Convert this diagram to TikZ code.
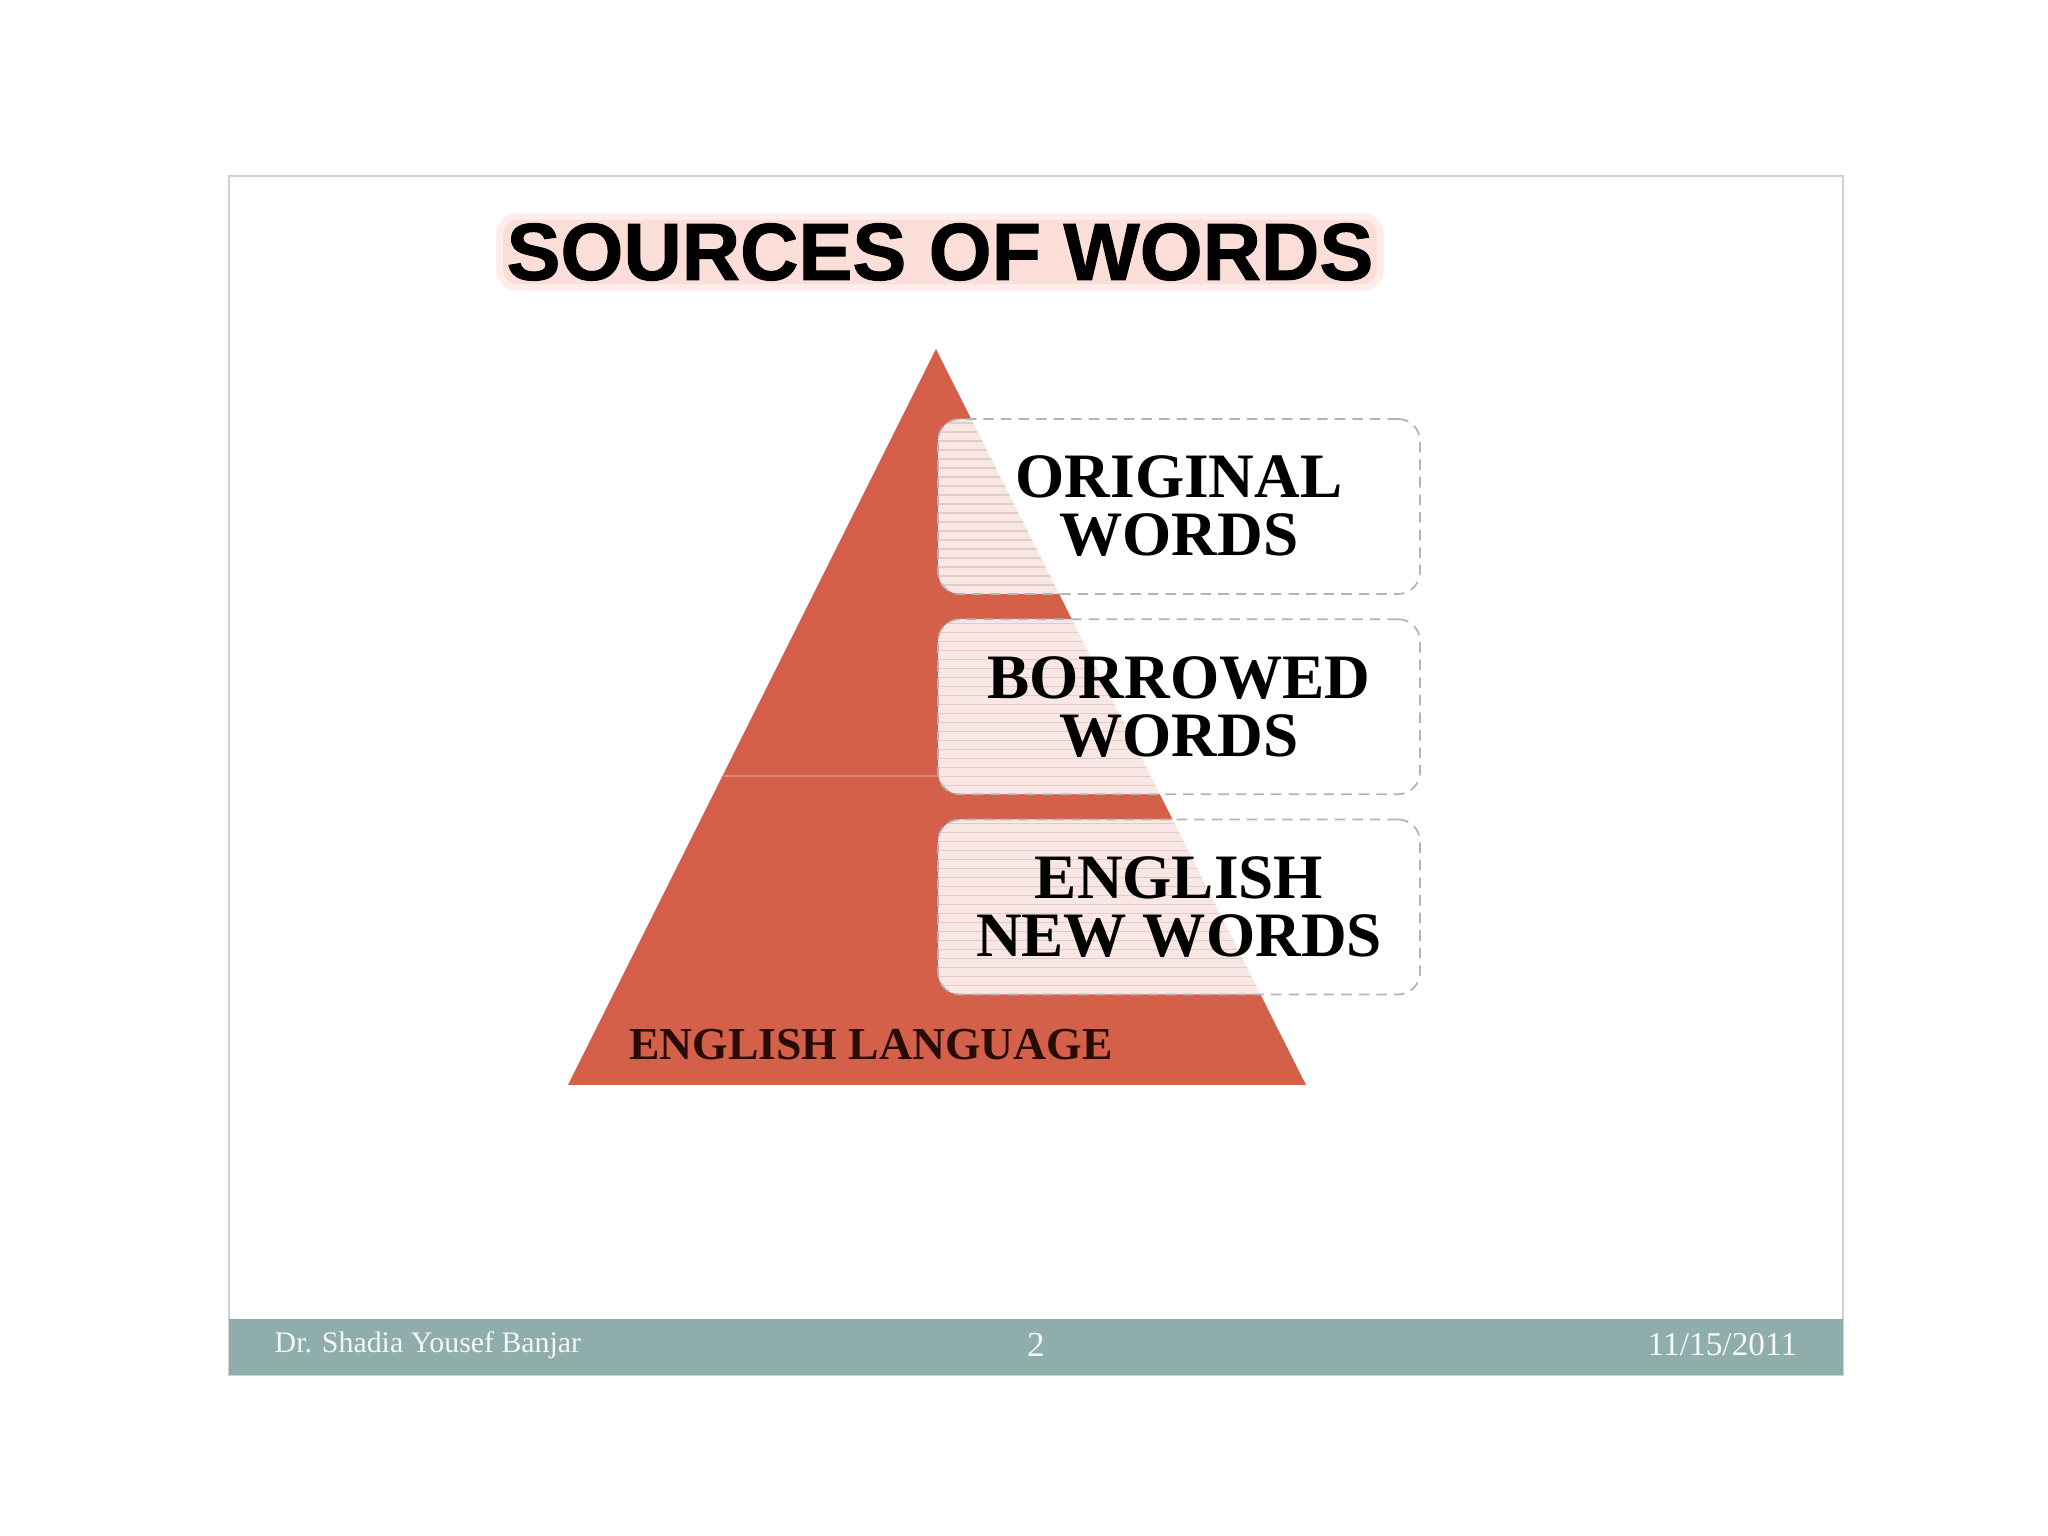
\documentclass[tikz,border=0pt]{standalone}
\usepackage{fontspec}
\usepackage{xcolor}
\usepackage{tikz}
\usetikzlibrary{positioning}
\setmainfont{Liberation Serif}
\newfontfamily\titlefont[BoldFeatures={FakeBold=1.2}]{Liberation Sans}
\definecolor{pyramid}{RGB}{212,96,74}
\definecolor{footbar}{RGB}{143,173,171}
\definecolor{stripe}{RGB}{228,204,198}
\definecolor{boxline}{RGB}{180,180,180}
\definecolor{langtext}{RGB}{40,10,6}
\definecolor{glow}{RGB}{252,222,216}

\begin{document}
\begin{tikzpicture}[
    wordbox/.style={rectangle, rounded corners=0.22cm, draw=boxline, densely dashed, line width=0.5pt,
        fill=white, fill opacity=0.85, text opacity=1, minimum width=4.82cm, minimum height=1.75cm,
        align=center, font=\fontsize{18}{16.5}\selectfont\bfseries,
        path picture={
            \clip (top) -- (bl) -- (br) -- cycle;
            \foreach \k in {1,...,19}
                \draw[stripe, solid, line width=0.4pt]
                    ([yshift=\k*0.09cm]path picture bounding box.south west) --
                    ([yshift=\k*0.09cm]path picture bounding box.south east);
        }},
    foottext/.style={text=white!90!footbar, inner sep=0pt, font=\fontsize{8.5}{10}\selectfont}
]
    \useasboundingbox (0,0) rectangle (20.48,15.36);

    % Slide
    \draw[gray!35, line width=0.6pt] (2.29,1.61) rectangle (18.43,13.60);
    \fill[footbar] (2.29,1.61) rectangle (18.43,2.17);

    % Title
    \node[fill=glow, rounded corners=4pt, inner xsep=1pt, inner ysep=1pt,
          preaction={draw=glow!50, line width=4pt, rounded corners=4pt},
          font=\titlefont\bfseries\fontsize{23}{26}\selectfont] (title) at (9.40,12.84) {SOURCES OF WORDS};

    % Pyramid
    \coordinate (top) at (9.36,11.87);
    \coordinate (bl) at (5.68,4.51);
    \coordinate (br) at (13.06,4.51);
    \fill[pyramid] (top) -- (bl) -- (br) -- cycle;
    \draw[pyramid!75!white, line width=0.4pt] (7.23,7.60) -- (9.38,7.60);
    \node[text=langtext, font=\fontsize{13}{15}\selectfont\bfseries] (lang) at (8.71,4.91) {ENGLISH LANGUAGE};

    % Boxes
    \node[wordbox] (orig) at (11.79,10.295) {ORIGINAL\\WORDS};
    \node[wordbox, below=0.235cm of orig] (borr) {BORROWED\\WORDS};
    \node[wordbox, below=0.235cm of borr] (neww) {ENGLISH\\NEW WORDS};

    % Footer
    \node[foottext, anchor=west] (author) at (2.74,1.91) {Dr. Shadia Yousef Banjar};
    \node[foottext, font=\fontsize{10}{12}\selectfont] (page) at (10.36,1.91) {2};
    \node[foottext, anchor=east, font=\fontsize{9.5}{11}\selectfont] (date) at (17.98,1.91) {11/15/2011};
\end{tikzpicture}
\end{document}
